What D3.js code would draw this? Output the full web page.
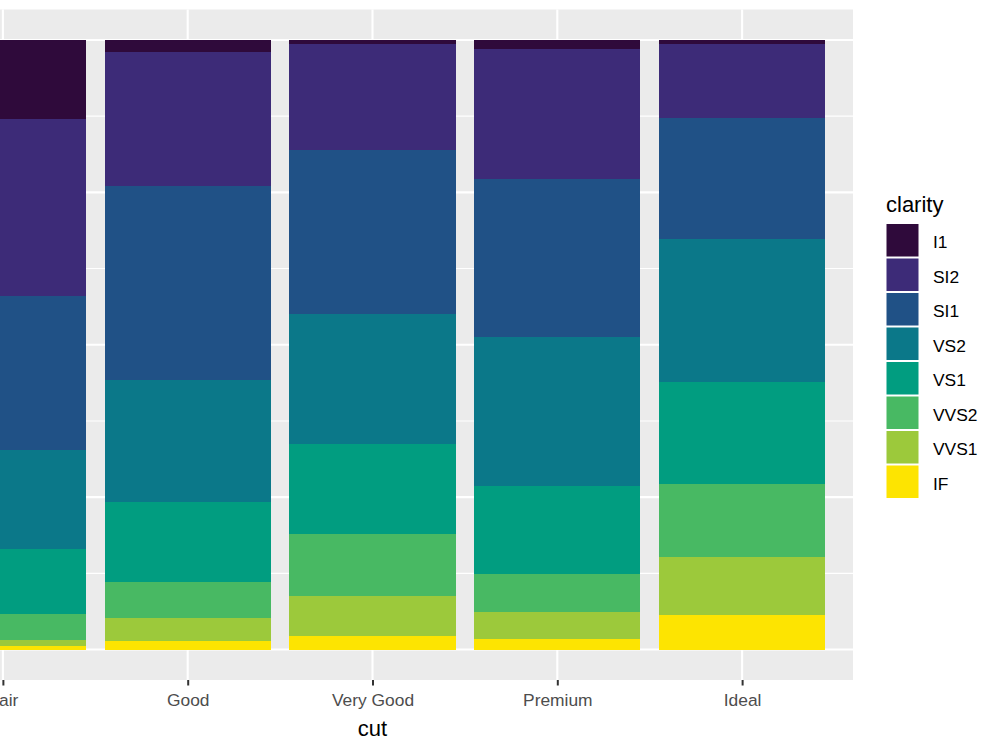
<!DOCTYPE html>
<html>
<head>
<meta charset="utf-8">
<script src="https://cdn.jsdelivr.net/npm/d3@7"></script>
<style>
  body { margin: 0; background: #ffffff; }
  svg { display: block; font-family: "Liberation Sans", Arial, sans-serif; }
</style>
</head>
<body>
<div id="chart"></div>
<script>
// Categories and counts per clarity (diamonds, cut x clarity)
const cuts = ["Fair", "Good", "Very Good", "Premium", "Ideal"];
const clarities = ["I1", "SI2", "SI1", "VS2", "VS1", "VVS2", "VVS1", "IF"];
const I1   = [210, 96, 84, 205, 146];
const SI2  = [466, 1081, 2100, 2949, 2598];
const SI1  = [408, 1560, 3240, 3575, 4282];
const VS2  = [261, 978, 2591, 3357, 5071];
const VS1  = [170, 648, 1775, 1989, 3589];
const VVS2 = [69, 286, 1235, 870, 2606];
const VVS1 = [17, 186, 789, 616, 2047];
const IF   = [9, 71, 268, 230, 1212];
const yTicks = [0, 0.25, 0.5, 0.75, 1];
const yMinor = [0.125, 0.375, 0.625, 0.875];

const colors = ["#2f0a3b", "#3d2b78", "#205186", "#0b7889", "#019d80", "#48b963", "#9cc93b", "#fde401"];

// build rows for d3.stack
const series = { I1, SI2, SI1, VS2, VS1, VVS2, VVS1, IF };
const rows = cuts.map((c, i) => {
  const r = { cut: c };
  clarities.forEach(k => r[k] = series[k][i]);
  return r;
});

const W = 1000, H = 750;
const panel = { left: -108, right: 853, top: 9.5, bottom: 680 };

const svg = d3.select("#chart")
  .append("svg")
  .attr("width", W)
  .attr("height", H);

const x = d3.scalePoint()
  .domain(cuts)
  .range([panel.left, panel.right])
  .padding(0.6);
const barW = x.step() * 0.9;

const y = d3.scaleLinear()
  .domain([-0.05, 1.05])
  .range([panel.bottom, panel.top]);

const color = d3.scaleOrdinal().domain(clarities).range(colors);

// panel background
svg.append("rect")
  .attr("x", panel.left)
  .attr("y", panel.top)
  .attr("width", panel.right - panel.left)
  .attr("height", panel.bottom - panel.top)
  .attr("fill", "#ebebeb");

// minor gridlines
svg.selectAll(".minor")
  .data(yMinor)
  .enter()
  .append("line")
  .attr("x1", panel.left).attr("x2", panel.right)
  .attr("y1", d => y(d)).attr("y2", d => y(d))
  .attr("stroke", "#ffffff")
  .attr("stroke-width", 1.1);

// major gridlines
svg.selectAll(".majorY")
  .data(yTicks)
  .enter()
  .append("line")
  .attr("x1", panel.left).attr("x2", panel.right)
  .attr("y1", d => y(d)).attr("y2", d => y(d))
  .attr("stroke", "#ffffff")
  .attr("stroke-width", 2.1);

svg.selectAll(".majorX")
  .data(cuts)
  .enter()
  .append("line")
  .attr("x1", d => x(d)).attr("x2", d => x(d))
  .attr("y1", panel.top).attr("y2", panel.bottom)
  .attr("stroke", "#ffffff")
  .attr("stroke-width", 2.1);

// stacked, normalised bars (IF at the bottom, I1 on top)
const stack = d3.stack()
  .keys(clarities.slice().reverse())
  .offset(d3.stackOffsetExpand);
const layers = stack(rows);

svg.append("g")
  .attr("shape-rendering", "crispEdges")
  .selectAll("g")
  .data(layers)
  .enter()
  .append("g")
  .attr("fill", d => color(d.key))
  .selectAll("rect")
  .data(d => d)
  .enter()
  .append("rect")
  .attr("x", d => x(d.data.cut) - barW / 2)
  .attr("width", barW)
  .attr("y", d => y(d[1]))
  .attr("height", d => y(d[0]) - y(d[1]));

// x axis: ticks and labels
const xAxis = svg.append("g")
  .attr("transform", "translate(0," + panel.bottom + ")")
  .call(d3.axisBottom(x).tickSize(5.5).tickPadding(8));
xAxis.select(".domain").remove();
xAxis.selectAll(".tick line")
  .attr("stroke", "#333333")
  .attr("stroke-width", 2);
xAxis.selectAll(".tick text")
  .attr("fill", "#4d4d4d")
  .attr("font-size", "17.4px")
  .attr("font-family", "Liberation Sans, Arial, sans-serif");

// x title
svg.append("text")
  .attr("x", (panel.left + panel.right) / 2)
  .attr("y", 736)
  .attr("text-anchor", "middle")
  .attr("font-size", "22px")
  .attr("fill", "#000000")
  .text("cut");

// legend
const legend = svg.append("g").attr("transform", "translate(886,0)");
legend.append("text")
  .attr("x", 0)
  .attr("y", 212)
  .attr("font-size", "22px")
  .attr("fill", "#000000")
  .text("clarity");

const keyH = 34.5, keyTop = 223;
const keys = legend.selectAll(".key")
  .data(clarities)
  .enter()
  .append("g")
  .attr("transform", (d, i) => "translate(0," + (keyTop + i * keyH) + ")");
keys.append("rect")
  .attr("x", 0.5)
  .attr("y", 1)
  .attr("width", 32)
  .attr("height", keyH - 2)
  .attr("fill", d => color(d));
keys.append("text")
  .attr("x", 47)
  .attr("y", keyH / 2 + 2)
  .attr("dy", "0.35em")
  .attr("font-size", "17.4px")
  .attr("fill", "#000000")
  .text(d => d);
</script>
</body>
</html>
